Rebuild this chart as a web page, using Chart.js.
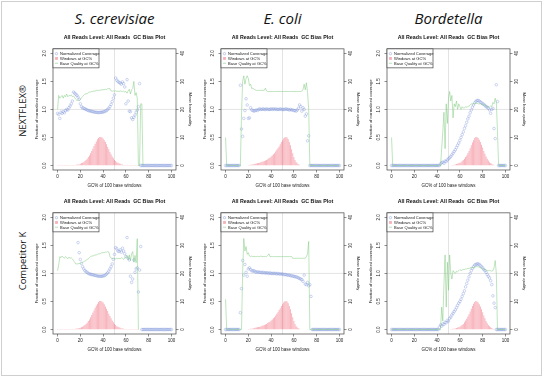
<!DOCTYPE html>
<html>
<head>
<meta charset="utf-8">
<script src="https://cdn.jsdelivr.net/npm/chart.js@4.4.0/dist/chart.umd.min.js"></script>
<style>
  html, body { margin: 0; padding: 0; background: #fff; }
  body { width: 543px; height: 377px; position: relative; overflow: hidden; }
  .frame { position: absolute; left: 1px; top: 1px; width: 539px; height: 373px; border: 1px solid #cfcfcf; }
  .coltitle { position: absolute; top: 8px; width: 170px; text-align: center; font-family: "Open Sans", sans-serif; font-style: italic; font-size: 15px; line-height: 20px; color: #111; }
  .rowtitle { position: absolute; font-family: "Open Sans", sans-serif; font-size: 9.5px; color: #111; white-space: nowrap; transform: translate(-50%, -50%) rotate(-90deg); }
  canvas { position: absolute; }
</style>
</head>
<body>
<div class="frame"></div>

<script>
// GC% of the 100 base windows (x categories)
const gcPercent = Array.from({ length: 101 }, (_, i) => i);
const gcTicks = [0, 20, 40, 60, 80, 100];
const coverageTicks = [0, 0.5, 1, 1.5, 2];
const qualityTicks = [0, 10, 20, 30, 40];

const organisms = ["S. cerevisiae", "E. coli", "Bordetella"];
const kits = ["NEXTFLEX®", "Competitor K"];
const panelTitle = "All Reads Level: All Reads  GC Bias Plot";
const legendLabels = ["Normalized Coverage", "Windows at GC%", "Base Quality at GC%"];

// reference lines drawn in light grey
const guideGC = 50;
const guideCoverage = 1;

// ---------- S. cerevisiae, NEXTFLEX ----------
const yeastNextflexCoverage = [
  0.93, 0.91, 0.84, 0.95, 0.93, 0.96, 0.94, 0.98, 1.00, 0.99,
  1.03, 1.06, 1.10, 1.15, 1.31, 1.29, 1.27, 1.25, 1.22, 1.18,
  1.10, 1.05, 1.03, 1.02, 1.01, 1.00, 0.99, 0.98, 0.975, 0.97,
  0.965, 0.96, 0.955, 0.95, 0.95, 0.945, 0.945, 0.945, 0.95, 0.95,
  0.955, 0.96, 0.97, 0.98, 1.00, 1.02, 1.05, 1.09, 1.14, 1.20,
  1.26, 1.56, 1.52, 1.50, 1.48, 1.47, 1.45, 1.49, 1.46, 1.40,
  1.10, 1.53, 1.15, 0.97, 0.96, 0.85, 0.82, 0.86, 0.90, 0.95,
  0.99, 1.05, 1.46, 0, 0, 0, 0, 0, 0, 0,
  0, 0, 0, 0, 0, 0, 0, 0, 0, 0,
  0, 0, 0, 0, 0, 0, 0, 0, 0, 0,
  0
];
const yeastNextflexWindows = [
  0.01, 0.01, 0.01, 0.01, 0.01, 0.01, 0.01, 0.01, 0.01, 0.01,
  0.01, 0.01, 0.01, 0.01, 0.01, 0.01, 0.01, 0.02, 0.02, 0.02,
  0.03, 0.04, 0.05, 0.06, 0.08, 0.10, 0.12, 0.15, 0.18, 0.22,
  0.26, 0.30, 0.35, 0.39, 0.43, 0.47, 0.49, 0.51, 0.51, 0.50,
  0.48, 0.45, 0.42, 0.38, 0.33, 0.29, 0.24, 0.20, 0.16, 0.13,
  0.10, 0.08, 0.06, 0.05, 0.04, 0.03, 0.02, 0.02, 0.01, 0.01,
  0.01, 0.01, 0.01, 0.01, 0.01, 0.01, 0.01, 0.01, 0.01, 0.01,
  0.01, 0.01, 0.01, 0, 0, 0, 0, 0, 0, 0,
  0, 0, 0, 0, 0, 0, 0, 0, 0, 0,
  0, 0, 0, 0, 0, 0, 0, 0, 0, 0,
  0
];
const yeastNextflexQuality = [
  20, 25, 24, 24.5, 25, 24, 25, 24.5, 25.5, 24.5,
  25, 24.8, 25.2, 24.5, 24.8, 24.2, 23.6, 23.2, 23.4, 23.2,
  23.6, 24.2, 24.6, 25, 25.4, 25.6, 25.6, 26, 26.2, 26.2,
  26.4, 26.4, 26.6, 26.5, 26.8, 26.8, 26.7, 26.9, 26.9, 27,
  27, 27.1, 27.2, 27.1, 27.4, 27.4, 27.4, 26.6, 26.5, 26.6,
  26.5, 26.6, 26.5, 26.5, 26.4, 26.6, 26.5, 26.4, 26.5, 26.2,
  26.4, 25.8, 26.6, 27.2, 25.5, 27, 27.5, 30, 25, 26,
  24, 0, 0, 22, 22, 0, null, null, null, null,
  null, null, null, null, null, null, null, null, null, null,
  null, null, null, null, null, null, null, null, null, null,
  null
];

// ---------- E. coli, NEXTFLEX ----------
const ecoliNextflexCoverage = [
  0, 0, 0, 0, 0, 0, 0, 0, 0, 0,
  0, 0, 0, 1.43, 0.65, 0.52, 0.84, 0.98, 1.19, 1.08,
  0.84, 0.85, 1.03, 0.99, 0.98, 0.97, 0.98, 0.99, 0.98, 1.00,
  1.01, 1.00, 1.00, 1.01, 1.00, 1.00, 1.01, 1.00, 1.00, 1.00,
  1.01, 1.00, 1.01, 1.00, 1.01, 1.00, 1.00, 1.00, 1.01, 1.00,
  1.00, 1.00, 1.00, 1.01, 1.00, 1.00, 0.99, 1.00, 0.99, 0.99,
  0.98, 0.98, 0.97, 0.99, 1.02, 1.08, 1.05, 0.97, 1.03, 1.00,
  0.88, 0.92, 0.44, 0.53, 0, 0, 0, 0, 0, 0,
  0, 0, 0, 0, 0, 0, 0, 0, 0, 0,
  0, 0, 0, 0, 0, 0, 0, 0, 0, 0,
  0
];
const ecoliNextflexWindows = [
  0, 0, 0, 0, 0, 0, 0, 0, 0, 0,
  0, 0, 0, 0.005, 0.005, 0.005, 0.005, 0.005, 0.005, 0.005,
  0.01, 0.01, 0.015, 0.02, 0.02, 0.025, 0.03, 0.035, 0.04, 0.045,
  0.05, 0.06, 0.065, 0.07, 0.08, 0.09, 0.10, 0.11, 0.13, 0.14,
  0.16, 0.18, 0.20, 0.22, 0.25, 0.28, 0.31, 0.34, 0.38, 0.42,
  0.45, 0.48, 0.50, 0.51, 0.50, 0.47, 0.42, 0.36, 0.29, 0.22,
  0.15, 0.10, 0.06, 0.035, 0.02, 0.012, 0.005, 0.005, 0.005, 0.005,
  0.005, 0.005, 0.005, 0.005, 0.005, 0.005, 0, 0, 0, 0,
  0, 0, 0, 0, 0, 0, 0, 0, 0, 0,
  0, 0, 0, 0, 0, 0, 0, 0, 0, 0,
  0
];
const ecoliNextflexQuality = [
  10, 0, 0, 0, 0, 0, 0, 0, 0, 0,
  0, 0, 0, 0, 18, 30, 32, 29, 31, 32,
  31, 28.5, 29, 27.4, 27.6, 27.2, 27, 26.8, 26.8, 26.8,
  26.8, 26.8, 26.8, 26.8, 26.8, 27.6, 26.6, 26.4, 26.4, 26.4,
  26.4, 26.4, 26.4, 26.4, 26.4, 26.4, 26.4, 26.4, 26.4, 26.4,
  26.4, 26.4, 26.4, 26.4, 26.4, 26.4, 26.4, 26.4, 26.4, 26.4,
  26.4, 26.4, 26.4, 26.4, 26.4, 26.4, 26.4, 26.6, 27, 29,
  27, 29.5, 26, 20, 0, 0, 0, 0, 0, 0,
  0, 0, 0, 0, 0, 0, 0, 0, 0, 0,
  0, 0, 0, 0, 0, 0, 0, 0, 0, 0,
  0
];

// ---------- Bordetella, NEXTFLEX ----------
const bordetellaNextflexCoverage = [
  0, 0, 0, 0, 0, 0, 0, 0, 0, 0,
  0, 0, 0, 0, 0, 0, 0, 0, 0, 0,
  0, 0, 0, 0, 0, 0, 0, 0, 0, 0,
  0, 0, 0, 0, 0, 0, 0, 0, 0, 0,
  0, 0, 0, 0.03, 0.05, 0.06, 0.04, 0.08, 0.07, 0.10,
  0.12, 0.14, 0.16, 0.19, 0.22, 0.25, 0.28, 0.32, 0.36, 0.40,
  0.45, 0.50, 0.55, 0.60, 0.66, 0.71, 0.77, 0.83, 0.88, 0.94,
  0.99, 1.04, 1.08, 1.12, 1.14, 1.16, 1.16, 1.15, 1.13, 1.12,
  1.10, 1.09, 1.07, 1.05, 1.04, 1.02, 0.99, 0.93, 1.00, 1.02,
  0.66, 0.48, 1.44, 1.14, 0, 0, 0, 0, 0, 0,
  0
];
const bordetellaNextflexWindows = [
  0, 0, 0, 0, 0, 0, 0, 0, 0, 0,
  0, 0, 0, 0, 0, 0, 0, 0, 0, 0,
  0, 0, 0, 0, 0, 0, 0, 0, 0, 0,
  0, 0, 0, 0, 0, 0, 0, 0, 0, 0,
  0, 0, 0, 0, 0.005, 0.005, 0.005, 0.005, 0.005, 0.005,
  0.005, 0.005, 0.005, 0.01, 0.01, 0.015, 0.02, 0.025, 0.03, 0.04,
  0.05, 0.06, 0.08, 0.10, 0.12, 0.15, 0.18, 0.22, 0.26, 0.31,
  0.36, 0.41, 0.45, 0.49, 0.51, 0.51, 0.49, 0.46, 0.42, 0.37,
  0.32, 0.26, 0.21, 0.16, 0.12, 0.09, 0.06, 0.04, 0.03, 0.02,
  0.01, 0.005, 0.005, 0.005, 0, 0, 0, 0, 0, 0,
  0
];
const bordetellaNextflexQuality = [
  10, 0, 0, 0, 0, 0, 0, 0, 0, 0,
  0, 0, 0, 0, 0, 0, 0, 0, 0, 0,
  0, 0, 0, 0, 0, 0, 0, 0, 0, 0,
  0, 0, 0, 0, 0, 0, 0, 0, 0, 0,
  0, 0, 0, 0, 6, 12, 19, 6, 22, 15,
  24, 26.4, 23, 25, 17, 22, 21, 23, 20, 22,
  21, 20, 21, 20.5, 20.5, 21, 20.8, 21, 21.2, 21.5,
  22, 22, 22, 22, 22.2, 22.2, 22, 22, 22, 21.8,
  21.8, 21.6, 21.6, 21.2, 21, 21, 20.8, 21.2, 21, 22.5,
  22, 24, 22.5, 12, 0, 0, 0, 0, 0, 0,
  0
];

// ---------- S. cerevisiae, Competitor K ----------
const yeastCompetitorCoverage = [
  null, null, null, null, null, null, null, null, null, null,
  null, null, null, null, null, null, null, null, 1.55, 1.37,
  1.25, 1.18, 1.12, 1.08, 1.05, 1.03, 1.02, 1.00, 0.99, 0.985,
  0.98, 0.975, 0.97, 0.965, 0.96, 0.955, 0.95, 0.95, 0.95, 0.95,
  0.955, 0.96, 0.97, 0.99, 1.01, 1.04, 1.08, 1.12, 1.17, 1.25,
  1.34, 1.46, 1.44, 1.40, 1.39, 1.42, 1.38, 1.45, 1.40, 1.35,
  1.30, 1.64, 1.27, 1.24, 0.95, 0.84, 0.90, 1.24, 1.02, 1.08,
  1.10, 0.67, 1.06, 1.48, 0, 0, 0, 0, 0, 0,
  0, 0, 0, 0, 0, 0, 0, 0, 0, 0,
  0, 0, 0, 0, 0, 0, 0, 0, 0, 0,
  0
];
const yeastCompetitorWindows = [
  0.01, 0.01, 0.01, 0.01, 0.01, 0.01, 0.01, 0.01, 0.01, 0.01,
  0.01, 0.01, 0.01, 0.01, 0.01, 0.01, 0.015, 0.02, 0.02, 0.025,
  0.03, 0.04, 0.05, 0.065, 0.08, 0.10, 0.12, 0.15, 0.18, 0.22,
  0.26, 0.30, 0.34, 0.39, 0.43, 0.46, 0.49, 0.51, 0.51, 0.50,
  0.48, 0.45, 0.41, 0.37, 0.33, 0.28, 0.24, 0.20, 0.16, 0.13,
  0.10, 0.08, 0.06, 0.05, 0.04, 0.03, 0.02, 0.02, 0.015, 0.01,
  0.01, 0.01, 0.01, 0.01, 0.01, 0.01, 0.01, 0.01, 0.01, 0.01,
  0.01, 0.01, 0, 0, 0, 0, 0, 0, 0, 0,
  0, 0, 0, 0, 0, 0, 0, 0, 0, 0,
  0, 0, 0, 0, 0, 0, 0, 0, 0, 0,
  0
];
const yeastCompetitorQuality = [
  21, 23, 26, 25.6, 26.2, 25.8, 25.4, 26, 25.6, 25.2,
  25.8, 25.4, 25.6, 25.2, 24.6, 24, 23.4, 23.4, 23.4, 23.6,
  23.4, 23.8, 24, 24.2, 24.4, 24.6, 25, 25.2, 25.6, 26,
  26.2, 26.2, 26.4, 26.6, 26.6, 26.8, 27, 27, 27.2, 27.4,
  27.4, 27.4, 27.6, 27.6, 27.8, 27.6, 26, 25.4, 25.4, 25.2,
  25.4, 25.2, 25.4, 25.2, 25.4, 25.2, 25.6, 25.4, 25, 25.6,
  25.8, 26.4, 25, 26.6, 24.6, 27, 27.8, 24, 26.4, 23.8,
  32.4, 0, null, null, null, null, null, null, null, null,
  null, null, null, null, null, null, null, null, null, null,
  null, null, null, null, null, null, null, null, null, null,
  null
];

// ---------- E. coli, Competitor K ----------
const ecoliCompetitorCoverage = [
  0, 0, 0, 0, 0, 0, 0, 0, 0, 0,
  0, 0, 0, 0.30, 0.73, 1.23, 0.97, 1.16, 1.02, 0.95,
  1.08, 1.10, 1.07, 1.05, 1.04, 1.05, 1.03, 1.02, 1.03, 1.02,
  1.02, 1.02, 1.01, 1.02, 1.01, 1.01, 1.01, 1.01, 1.00, 1.01,
  1.00, 1.00, 1.00, 1.00, 1.00, 0.99, 1.00, 0.99, 0.99, 0.99,
  0.99, 0.98, 0.98, 0.98, 0.97, 0.97, 0.97, 0.96, 0.96, 0.95,
  0.95, 0.94, 0.94, 0.93, 0.92, 0.91, 0.90, 0.89, 0.86, 0.97,
  0.81, 0.80, 0.84, 0.78, 0.80, 0.59, 0, 0, 0, 0,
  0, 0, 0, 0, 0, 0, 0, 0, 0, 0,
  0, 0, 0, 0, 0, 0, 0, 0, 0, 0,
  0
];
const ecoliCompetitorWindows = [
  0, 0, 0, 0, 0, 0, 0, 0, 0, 0,
  0, 0, 0, 0.005, 0.005, 0.005, 0.005, 0.005, 0.005, 0.005,
  0.01, 0.01, 0.015, 0.015, 0.02, 0.025, 0.03, 0.035, 0.04, 0.045,
  0.05, 0.055, 0.065, 0.07, 0.08, 0.09, 0.10, 0.115, 0.13, 0.14,
  0.16, 0.18, 0.20, 0.22, 0.25, 0.28, 0.31, 0.35, 0.38, 0.42,
  0.45, 0.48, 0.50, 0.51, 0.50, 0.47, 0.42, 0.36, 0.29, 0.22,
  0.15, 0.10, 0.06, 0.035, 0.02, 0.012, 0.005, 0.005, 0.005, 0.005,
  0.005, 0.005, 0.005, 0.005, 0.005, 0.005, 0, 0, 0, 0,
  0, 0, 0, 0, 0, 0, 0, 0, 0, 0,
  0, 0, 0, 0, 0, 0, 0, 0, 0, 0,
  0
];
const ecoliCompetitorQuality = [
  10.8, 0, 0, 0, 0, 0, 0, 0, 0, 0,
  0, 0, 0, 0, 0, 20, 32.5, 28, 29.6, 26.8,
  27.4, 26.2, 26, 26.2, 26, 26.1, 26, 26, 26.1, 26,
  26, 26.2, 26, 26, 26, 26, 26, 26.4, 27, 26,
  26, 26, 26, 26, 26, 26, 26, 26, 26, 26,
  26, 26, 26, 26, 26, 26, 26, 26, 26, 25.4,
  25.4, 25.4, 25.4, 25.4, 25.4, 25.4, 25.4, 25.4, 25.4, 25.4,
  25.4, 26, 27, 31.4, 0, 0, 0, 0, 0, 0,
  0, 0, 0, 0, 0, 0, 0, 0, 0, 0,
  0, 0, 0, 0, 0, 0, 0, 0, 0, 0,
  0
];

// ---------- Bordetella, Competitor K ----------
const bordetellaCompetitorCoverage = [
  0, 0, 0, 0, 0, 0, 0, 0, 0, 0,
  0, 0, 0, 0, 0, 0, 0, 0, 0, 0,
  0, 0, 0, 0, 0, 0, 0, 0, 0, 0,
  0, 0, 0, 0, 0, 0, 0, 0, 0, 0,
  0, 0, 0.04, 0.08, 0.06, 0.10, 0.09, 0.13, 0.12, 0.16,
  0.15, 0.20, 0.22, 0.26, 0.29, 0.32, 0.35, 0.39, 0.43, 0.47,
  0.50, 0.54, 0.59, 0.64, 0.69, 0.76, 0.82, 0.88, 0.94, 1.00,
  1.05, 1.09, 1.12, 1.15, 1.16, 1.17, 1.17, 1.16, 1.14, 1.12,
  1.10, 1.07, 1.05, 1.02, 0.98, 0.95, 0.92, 0.87, 0.80, 0.60,
  0.47, 0.39, 0, 0, 0, 0, 0, 0, 0, 0,
  0
];
const bordetellaCompetitorWindows = [
  0, 0, 0, 0, 0, 0, 0, 0, 0, 0,
  0, 0, 0, 0, 0, 0, 0, 0, 0, 0,
  0, 0, 0, 0, 0, 0, 0, 0, 0, 0,
  0, 0, 0, 0, 0, 0, 0, 0, 0, 0,
  0, 0, 0, 0, 0.005, 0.005, 0.005, 0.005, 0.005, 0.005,
  0.005, 0.005, 0.01, 0.01, 0.015, 0.015, 0.02, 0.025, 0.035, 0.04,
  0.05, 0.065, 0.08, 0.10, 0.13, 0.16, 0.19, 0.23, 0.27, 0.32,
  0.37, 0.42, 0.46, 0.49, 0.51, 0.50, 0.48, 0.45, 0.41, 0.36,
  0.31, 0.25, 0.20, 0.15, 0.11, 0.08, 0.06, 0.04, 0.025, 0.015,
  0.01, 0.005, 0.005, 0, 0, 0, 0, 0, 0, 0,
  0
];
const bordetellaCompetitorQuality = [
  0, 0, 0, 0, 0, 0, 0, 0, 0, 0,
  0, 0, 0, 0, 0, 0, 0, 0, 0, 0,
  0, 0, 0, 0, 0, 0, 0, 0, 0, 0,
  0, 0, 0, 0, 0, 0, 0, 0, 0, 0,
  0, 0, 0, 0, 8, 3, 16, 26.6, 8, 24,
  14, 26.6, 20, 18, 21, 20.4, 20, 20.8, 20.6, 21,
  21.4, 21, 21.2, 21.4, 21.4, 21.6, 21.6, 21.8, 21.8, 22,
  22, 22, 22.2, 22.2, 22.4, 22.4, 22.4, 22.2, 22, 21.8,
  21.6, 21.4, 21.4, 21.2, 21, 21, 21, 21, 20.8, 21,
  22, 24.6, 20, 0, 0, 0, 0, 0, 0, 0,
  0
];

// ---------- layout of the grid ----------
const boxLefts = [53, 221, 387];   // plot box left edge per column
const boxTops = [49, 213];         // plot box top edge per row
const boxWidth = 123;
const boxHeight = 121;
const sideWidth = 24;
const topHeight = 18;
const bottomHeight = 22;

const coverageColor = "rgba(115, 140, 215, 0.7)";
const windowsColor = "rgba(240, 110, 125, 0.55)";
const qualityColor = "rgba(120, 200, 120, 0.75)";
const axisColor = "#444";
const textColor = "#222";

Chart.defaults.font.family = "'Liberation Sans', Arial, sans-serif";
Chart.defaults.font.size = 4.5;
Chart.defaults.color = textColor;

const toPoints = (values) => gcPercent.map((gc, i) => ({ x: gc, y: values[i] }));

// R style extras: grey guide lines, plot box, rotated y labels, legend box
const gcPlotExtras = {
    id: "gcPlotExtras",
    beforeDatasetsDraw(chart) {
        const { ctx, chartArea: a, scales } = chart;
        const xg = scales.x.getPixelForValue(guideGC);
        const yg = scales.y.getPixelForValue(guideCoverage);
        ctx.save();
        ctx.strokeStyle = "#dcdcdc";
        ctx.lineWidth = 0.8;
        ctx.beginPath();
        ctx.moveTo(xg, a.top);
        ctx.lineTo(xg, a.bottom);
        ctx.moveTo(a.left, yg);
        ctx.lineTo(a.right, yg);
        ctx.stroke();
        ctx.restore();
    },
    afterDatasetsDraw(chart) {
        const { ctx, chartArea: a, scales } = chart;
        ctx.save();

        // plot box
        ctx.strokeStyle = axisColor;
        ctx.lineWidth = 0.7;
        ctx.strokeRect(a.left, a.top, a.right - a.left, a.bottom - a.top);

        // rotated y tick labels, both sides
        ctx.fillStyle = textColor;
        ctx.font = "4.5px 'Liberation Sans', Arial, sans-serif";
        ctx.textAlign = "center";
        ctx.textBaseline = "middle";
        [["y", a.left - 8], ["y2", a.right + 7]].forEach(([id, xPos]) => {
            const scale = scales[id];
            scale.ticks.forEach((t) => {
                const py = scale.getPixelForValue(t.value);
                ctx.save();
                ctx.translate(xPos, py);
                ctx.rotate(-Math.PI / 2);
                ctx.fillText(t.label, 0, 0);
                ctx.restore();
            });
        });

        // legend in the top left corner
        const lw = 46, lh = 19;
        ctx.fillStyle = "#fff";
        ctx.fillRect(a.left, a.top, lw, lh);
        ctx.strokeStyle = axisColor;
        ctx.lineWidth = 0.7;
        ctx.strokeRect(a.left, a.top, lw, lh);
        ctx.font = "4.1px 'Liberation Sans', Arial, sans-serif";
        ctx.textAlign = "left";
        ctx.textBaseline = "middle";
        const rows = [a.top + 4.8, a.top + 9.6, a.top + 14.4];
        chart.data.datasets.forEach((ds) => {
            const r = rows[ds.legendRow];
            const sx = a.left + 3.5;
            if (ds.legendRow === 0) {
                ctx.strokeStyle = coverageColor;
                ctx.lineWidth = 0.6;
                ctx.beginPath();
                ctx.arc(sx, r, 1.2, 0, Math.PI * 2);
                ctx.stroke();
            } else if (ds.legendRow === 1) {
                ctx.fillStyle = windowsColor;
                ctx.fillRect(sx - 1.4, r - 1.4, 2.8, 2.8);
            } else {
                ctx.strokeStyle = qualityColor;
                ctx.lineWidth = 0.7;
                ctx.beginPath();
                ctx.moveTo(sx - 1.6, r);
                ctx.lineTo(sx + 1.6, r);
                ctx.stroke();
            }
            ctx.fillStyle = textColor;
            ctx.fillText(ds.label, a.left + 7, r + 0.2);
        });
        ctx.restore();
    },
};

function fixedTicks(values) {
    return (scale) => {
        scale.ticks = values.map((v) => ({ value: v }));
    };
}

function gcBiasConfig(coverage, windows, quality) {
    return {
        type: "scatter",
        data: {
            datasets: [
                {
                    type: "line",
                    label: legendLabels[2],
                    legendRow: 2,
                    data: toPoints(quality),
                    yAxisID: "y2",
                    borderColor: qualityColor,
                    borderWidth: 0.65,
                    pointRadius: 0,
                    tension: 0,
                    spanGaps: false,
                    order: 1,
                },
                {
                    type: "scatter",
                    label: legendLabels[0],
                    legendRow: 0,
                    data: toPoints(coverage),
                    yAxisID: "y",
                    showLine: false,
                    pointStyle: "circle",
                    pointRadius: 1.3,
                    pointBorderWidth: 0.5,
                    borderColor: coverageColor,
                    pointBorderColor: coverageColor,
                    backgroundColor: "rgba(0,0,0,0)",
                    pointBackgroundColor: "rgba(0,0,0,0)",
                    order: 2,
                },
                {
                    type: "bar",
                    label: legendLabels[1],
                    legendRow: 1,
                    data: toPoints(windows),
                    yAxisID: "y",
                    backgroundColor: windowsColor,
                    borderWidth: 0,
                    barPercentage: 0.8,
                    categoryPercentage: 1,
                    order: 3,
                },
            ],
        },
        options: {
            responsive: false,
            animation: false,
            events: [],
            layout: { padding: 0 },
            plugins: {
                legend: { display: false },
                tooltip: { enabled: false },
                title: {
                    display: true,
                    text: panelTitle,
                    color: "#111",
                    font: { size: 5.3, weight: "bold" },
                    padding: { top: 3.5, bottom: 8 },
                },
            },
            scales: {
                x: {
                    type: "linear",
                    min: -4,
                    max: 104,
                    offset: false,
                    afterBuildTicks: fixedTicks(gcTicks),
                    afterFit: (s) => { s.height = bottomHeight; },
                    ticks: {
                        autoSkip: false,
                        maxRotation: 0,
                        padding: 2,
                        callback: (v) => String(v),
                    },
                    grid: { offset: false, drawOnChartArea: false, tickLength: 2.5, color: axisColor, lineWidth: 0.6 },
                    border: { display: false },
                    title: {
                        display: true,
                        text: "GC% of 100 base windows",
                        padding: { top: 0, bottom: 3.3 },
                    },
                },
                y: {
                    type: "linear",
                    position: "left",
                    min: -0.08,
                    max: 2.08,
                    afterBuildTicks: fixedTicks(coverageTicks),
                    afterFit: (s) => { s.width = sideWidth; },
                    ticks: { display: false, callback: (v) => v.toFixed(1) },
                    grid: { drawOnChartArea: false, tickLength: 2.5, color: axisColor, lineWidth: 0.6 },
                    border: { display: false },
                    title: {
                        display: true,
                        text: "Fraction of normalized coverage",
                        font: { size: 4.2 },
                        padding: { top: 5.3, bottom: 0 },
                    },
                },
                y2: {
                    type: "linear",
                    position: "right",
                    min: -1.6,
                    max: 41.6,
                    afterBuildTicks: fixedTicks(qualityTicks),
                    afterFit: (s) => { s.width = sideWidth; },
                    ticks: { display: false, callback: (v) => String(v) },
                    grid: { drawOnChartArea: false, tickLength: 2.5, color: axisColor, lineWidth: 0.6 },
                    border: { display: false },
                    title: {
                        display: true,
                        text: "Mean base quality",
                        font: { size: 4.2 },
                        padding: { top: 7.3, bottom: 0 },
                    },
                },
            },
        },
        plugins: [gcPlotExtras],
    };
}

const panels = [
    [yeastNextflexCoverage, yeastNextflexWindows, yeastNextflexQuality],
    [ecoliNextflexCoverage, ecoliNextflexWindows, ecoliNextflexQuality],
    [bordetellaNextflexCoverage, bordetellaNextflexWindows, bordetellaNextflexQuality],
    [yeastCompetitorCoverage, yeastCompetitorWindows, yeastCompetitorQuality],
    [ecoliCompetitorCoverage, ecoliCompetitorWindows, ecoliCompetitorQuality],
    [bordetellaCompetitorCoverage, bordetellaCompetitorWindows, bordetellaCompetitorQuality],
];

panels.forEach((series, i) => {
    const col = i % 3;
    const row = Math.floor(i / 3);
    const canvas = document.createElement("canvas");
    canvas.width = sideWidth * 2 + boxWidth;
    canvas.height = topHeight + boxHeight + bottomHeight;
    canvas.style.left = (boxLefts[col] - sideWidth) + "px";
    canvas.style.top = (boxTops[row] - topHeight) + "px";
    document.body.appendChild(canvas);
    new Chart(canvas, gcBiasConfig(series[0], series[1], series[2]));
});

// column headers (organisms) and row headers (kits)
organisms.forEach((name, col) => {
    const div = document.createElement("div");
    div.className = "coltitle";
    div.textContent = name;
    div.style.left = (boxLefts[col] + boxWidth / 2 - 85) + "px";
    document.body.appendChild(div);
});

const rowCentres = [111, 261];
kits.forEach((name, row) => {
    const div = document.createElement("div");
    div.className = "rowtitle";
    div.textContent = name;
    div.style.left = "22px";
    div.style.top = rowCentres[row] + "px";
    document.body.appendChild(div);
});
</script>
</body>
</html>
